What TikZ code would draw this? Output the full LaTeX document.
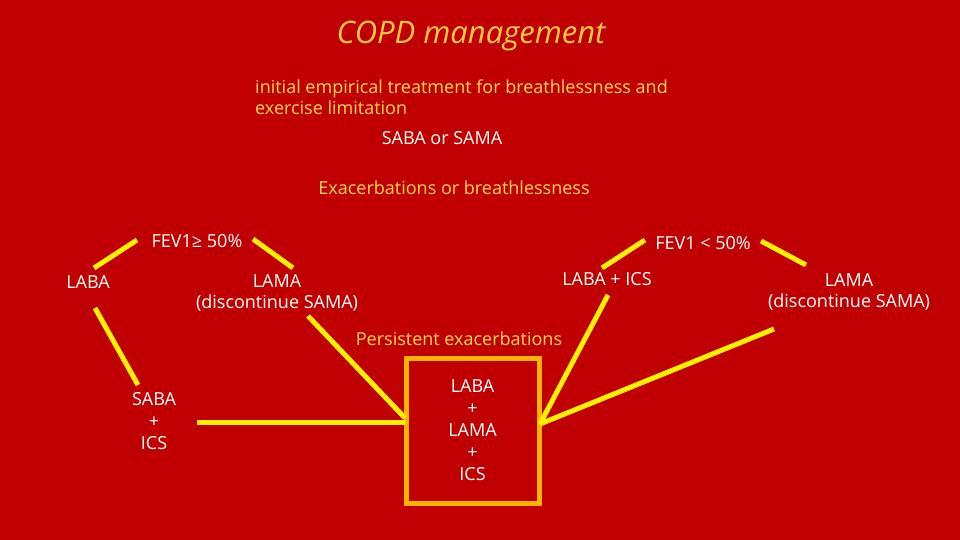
\documentclass[tikz,border=0pt]{standalone}
\usepackage{fontspec}
\setmainfont{Open Sans}
\definecolor{bgred}{HTML}{C00000}
\definecolor{txtyellow}{HTML}{FFD94A}
\definecolor{titleyellow}{HTML}{FFC845}
\definecolor{lineyellow}{HTML}{FFF000}
\definecolor{boxorange}{HTML}{FFB400}
\tikzset{
  lbl/.style={text=white, font=\fontsize{18}{21}\selectfont, align=center, inner sep=0pt},
  ylbl/.style={text=txtyellow, font=\fontsize{18}{21}\selectfont, inner sep=0pt},
  conn/.style={draw=lineyellow, line width=5pt},
  medbox/.style={draw=boxorange, line width=5pt, minimum width=133pt, minimum height=145pt, inner sep=0pt, text=white, align=center, font=\fontsize{18}{22}\selectfont}
}
\begin{document}
\begin{tikzpicture}[x=1pt,y=-1pt]
\fill[bgred] (0,0) rectangle (960,540);
\useasboundingbox (0,0) rectangle (960,540);
\node[text=titleyellow, font=\fontsize{31}{34}\selectfont\itshape, inner sep=0pt] (title) at (471,36) {COPD management};
\node[ylbl, anchor=west, align=left] (initial) at (255,97) {initial empirical treatment for breathlessness and\\exercise limitation};
\node[lbl] (sabasama) at (442,138) {SABA or SAMA};
\node[ylbl] (exac) at (454,188) {Exacerbations or breathlessness};
\node[lbl] (fevhi) at (197,241) {FEV1≥ 50\%};
\node[lbl] (fevlo) at (703,243) {FEV1 < 50\%};
\node[lbl] (laba) at (88,282) {LABA};
\node[lbl] (lamaL) at (277,293) {LAMA\\(discontinue SAMA)};
\node[lbl] (labaics) at (607,279) {LABA + ICS};
\node[lbl] (lamaR) at (849,292) {LAMA\\(discontinue SAMA)};
\node[ylbl] (persist) at (459,339) {Persistent exacerbations};
\node[lbl, font=\fontsize{18}{22}\selectfont] (sabaics) at (154,421) {SABA\\+\\ICS};
\node[medbox] (triple) at (472.5,430.5) {LABA\\+\\LAMA\\+\\ICS};
% connector end points
\coordinate (c1a) at (94,268);  \coordinate (c1b) at (137,240);
\coordinate (c2a) at (253,239); \coordinate (c2b) at (293,268);
\coordinate (c3a) at (602,268); \coordinate (c3b) at (645,240);
\coordinate (c4a) at (761,241); \coordinate (c4b) at (806,265);
\coordinate (c5a) at (95,308);  \coordinate (c5b) at (138,385);
\coordinate (c6a) at (197,422);
\coordinate (c7a) at (308,316);
\coordinate (c8a) at (608,295);
\coordinate (c9a) at (774,329);
\coordinate (tw1) at (405,422);
\coordinate (tw2) at (405,418);
\coordinate (te) at (540,424);
\draw[conn] (c1a) -- (c1b);
\draw[conn] (c2a) -- (c2b);
\draw[conn] (c3a) -- (c3b);
\draw[conn] (c4a) -- (c4b);
\draw[conn] (c5a) -- (c5b);
\draw[conn] (c6a) -- (tw1);
\draw[conn] (c7a) -- (tw2);
\draw[conn] (c8a) -- (te);
\draw[conn] (c9a) -- (te);
\end{tikzpicture}
\end{document}
